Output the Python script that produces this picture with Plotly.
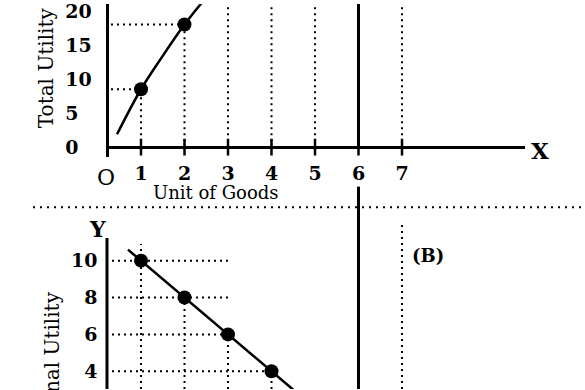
import plotly.graph_objects as go

# ---------------- data ----------------
units = [1, 2, 3, 4, 5, 6, 7]
unit_labels = ["1", "2", "3", "4", "5", "6", "7"]

tu_units = [1, 2]
tu_values = [8.5, 18]
tu_curve_x = [0.45, 1, 1.5, 2, 2.5]
tu_curve_y = [1.9, 8.5, 13.4, 18, 22]
tu_guides_full = [3, 4, 5, 7]

mu_units = [1, 2, 3, 4]
mu_values = [10, 8, 6, 4]
mu_line_x = [0.7, 4.6]
mu_line_y = [10.6, 2.8]
mu_hline_end = [3, 3, 3, 4]
mu_vline_top = [10.9, 8, 6, 4]
mu_guide_x7_top = 12.0

top_yticks = [0, 5, 10, 15, 20]
top_yticktext = ["0\u2007", "5\u2007", "10", "15", "20"]
bottom_yticks = [4, 6, 8, 10]
bottom_yticktext = ["4", "6", "8", "10"]

# ---------------- layout helpers ----------------
W, H = 585, 390
X0PX, XSCALE = 97.5, 43.5          # pixel of unit 0, pixels per unit
DOM_L, DOM_R = 108.5, 525
TOP_ZERO_PX, TOP_SCALE = 145, 6.9
BOT_TEN_PX, BOT_SCALE = 260, 18.67


def px(x):
    return x / W


def py(y):
    return 1 - y / H


xr = [(DOM_L - X0PX) / XSCALE, (DOM_R - X0PX) / XSCALE]
top_dom_px = (0, 155)
bot_dom_px = (185, 390)
top_range = [(TOP_ZERO_PX - top_dom_px[1]) / TOP_SCALE, (TOP_ZERO_PX - top_dom_px[0]) / TOP_SCALE]
bot_range = [10 + (BOT_TEN_PX - bot_dom_px[1]) / BOT_SCALE, 10 + (BOT_TEN_PX - bot_dom_px[0]) / BOT_SCALE]

SERIF = "DejaVu Serif"
dot = dict(color="black", width=2, dash="2px,4px")

fig = go.Figure()

# ---- top panel guides ----
gx, gy = [], []
h0 = (111 - X0PX) / XSCALE
for u, v in zip(tu_units, tu_values):
    gx += [h0, u, None, u, u, None]
    gy += [v, v, None, 0, v, None]
for u in tu_guides_full:
    gx += [u, u, None]
    gy += [0, top_range[1], None]
fig.add_trace(go.Scatter(x=gx, y=gy, mode="lines", line=dot, xaxis="x", yaxis="y",
                         hoverinfo="skip", showlegend=False))

fig.add_trace(go.Scatter(x=tu_curve_x, y=tu_curve_y, mode="lines",
                         line=dict(color="black", width=2.5, shape="spline"),
                         xaxis="x", yaxis="y", showlegend=False))
fig.add_trace(go.Scatter(x=tu_units, y=tu_values, mode="markers",
                         marker=dict(color="black", size=14),
                         xaxis="x", yaxis="y", showlegend=False))
# tick marks on the x axis
fig.add_trace(go.Scatter(x=units, y=[0] * len(units), mode="markers",
                         marker=dict(symbol="line-ns", size=12, line=dict(color="black", width=2.5)),
                         xaxis="x", yaxis="y", showlegend=False, cliponaxis=False))

# ---- bottom panel guides ----
bx, by = [], []
h1 = (112 - X0PX) / XSCALE
for u, v, e, t in zip(mu_units, mu_values, mu_hline_end, mu_vline_top):
    bx += [h1, e, None, u, u, None]
    by += [v, v, None, bot_range[0], t, None]
bx += [7, 7, None]
by += [bot_range[0], mu_guide_x7_top, None]
fig.add_trace(go.Scatter(x=bx, y=by, mode="lines", line=dot, xaxis="x2", yaxis="y2",
                         hoverinfo="skip", showlegend=False))
fig.add_trace(go.Scatter(x=mu_line_x, y=mu_line_y, mode="lines",
                         line=dict(color="black", width=2.5),
                         xaxis="x2", yaxis="y2", showlegend=False))
fig.add_trace(go.Scatter(x=mu_units, y=mu_values, mode="markers",
                         marker=dict(color="black", size=14),
                         xaxis="x2", yaxis="y2", showlegend=False))

tickfont = dict(family=SERIF, size=19, color="black", weight="bold")

fig.update_layout(
    width=W, height=H, autosize=False,
    margin=dict(l=0, r=0, t=0, b=0),
    paper_bgcolor="white", plot_bgcolor="white",
    showlegend=False,
    xaxis=dict(domain=[px(DOM_L), px(DOM_R)], range=xr, anchor="y",
               tickvals=units, ticktext=unit_labels, tickfont=tickfont,
               showgrid=False, zeroline=False, showline=False, ticks="",
               ticklabelstandoff=3, ticklabeloverflow="allow"),
    yaxis=dict(domain=[py(top_dom_px[1]), py(top_dom_px[0])], range=top_range, anchor="x",
               tickvals=top_yticks, ticktext=top_yticktext, tickfont=tickfont,
               showgrid=False, zeroline=True, zerolinecolor="black", zerolinewidth=3,
               showline=True, linecolor="black", linewidth=3, ticks="",
               ticklabelstandoff=10, ticklabeloverflow="allow"),
    xaxis2=dict(domain=[px(DOM_L), px(DOM_R)], range=xr, anchor="y2", visible=False),
    yaxis2=dict(domain=[py(bot_dom_px[1]), py(bot_dom_px[0])], range=bot_range, anchor="x2",
                tickvals=bottom_yticks, ticktext=bottom_yticktext, tickfont=tickfont,
                showgrid=False, zeroline=False, showline=False, ticks="",
                ticklabelstandoff=10, ticklabeloverflow="allow"),
)

# axis line of the bottom panel, the x=6 line and the separator
fig.add_shape(type="line", xref="paper", yref="paper", x0=px(107), x1=px(107),
              y0=0, y1=py(237), line=dict(color="black", width=3))
fig.add_shape(type="line", xref="x", yref="paper", x0=6, x1=6,
              y0=py(TOP_ZERO_PX), y1=1, line=dict(color="black", width=3))
fig.add_shape(type="line", xref="x", yref="paper", x0=6, x1=6,
              y0=0, y1=py(185), line=dict(color="black", width=3))
fig.add_shape(type="line", xref="paper", yref="paper", x0=px(33), x1=1,
              y0=py(206), y1=py(206), line=dict(color="black", width=2, dash="2px,5px"))

ann = [
    dict(text="Total Utility", x=px(46), y=py(65), textangle=-90, size=20, bold=False),
    dict(text="Unit of Goods", x=px(216), y=py(191), textangle=0, size=18, bold=False),
    dict(text="O", x=px(106), y=py(176), textangle=0, size=22, bold=False),
    dict(text="X", x=px(540), y=py(148), textangle=0, size=23, bold=True),
    dict(text="Y", x=px(98), y=py(228), textangle=0, size=22, bold=True),
    dict(text="(B)", x=px(428), y=py(255), textangle=0, size=18, bold=True),
    dict(text="Marginal Utility", x=px(52), y=py(374), textangle=-90, size=20, bold=False),
]
for a in ann:
    fig.add_annotation(text=a["text"], x=a["x"], y=a["y"], xref="paper", yref="paper",
                       xanchor="center", yanchor="middle", showarrow=False,
                       textangle=a["textangle"],
                       font=dict(family=SERIF, size=a["size"], color="black",
                                 weight="bold" if a["bold"] else "normal"))

fig.write_html("out.html")
